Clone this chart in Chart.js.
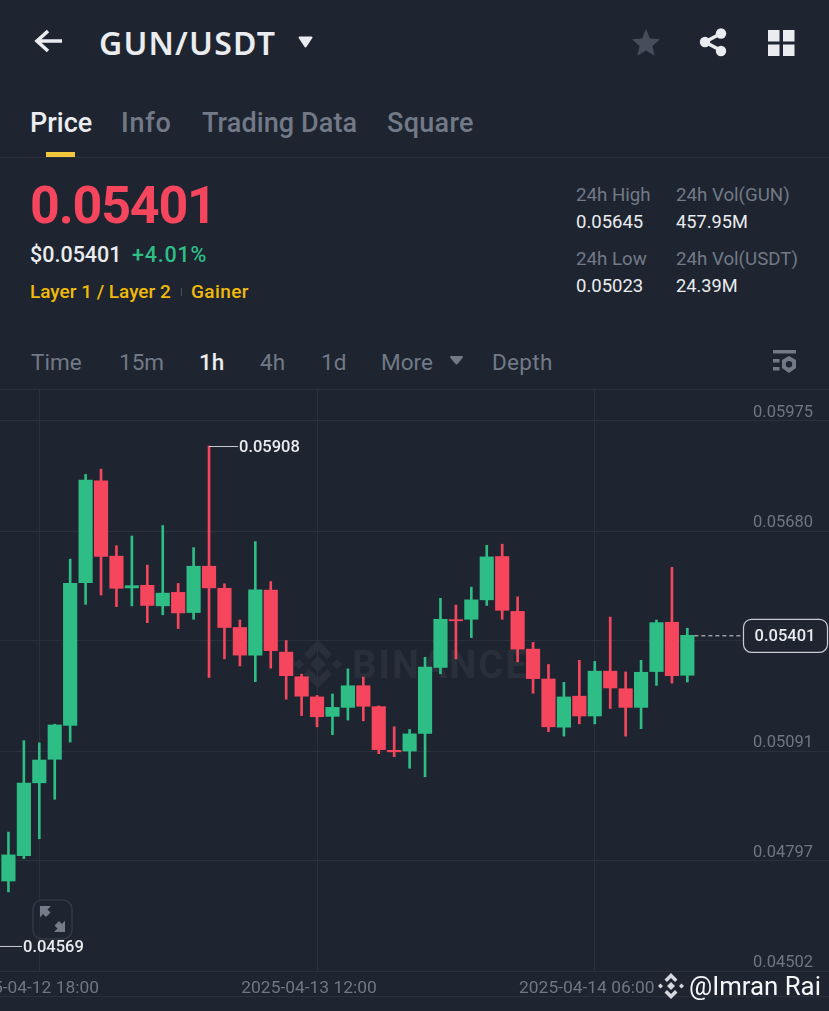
<!DOCTYPE html>
<html><head><meta charset="utf-8">
<script src="https://cdn.jsdelivr.net/npm/chart.js@4"></script>
<style>
html,body{margin:0;padding:0;background:#1e2530;width:829px;height:1011px;overflow:hidden}
body{position:relative;font-family:Roboto,sans-serif}
.t{position:absolute;white-space:nowrap;line-height:1;transform:translateY(-50%)}
.g{color:#727987}.w{color:#eaecef}.y{color:#f0b90b}
.h{position:absolute;left:0;width:829px;height:1px;background:#2b313c}
svg{position:absolute;overflow:visible}
canvas{position:absolute;left:0;top:389px}
</style></head><body>
<svg style="left:31px;top:26px" width="36" height="30"><path d="M31 15H7M17 5L6 15l11 10" fill="none" stroke="#eaecef" stroke-width="3.6"/></svg>
<div class="t w" style="left:99px;top:43px;font-family:'Noto Sans';font-size:32px;font-weight:600;letter-spacing:1.2px">GUN/USDT</div>
<svg style="left:298px;top:36px" width="15" height="12"><path d="M1.5 1.5h12L7.5 10.5z" fill="#eaecef" stroke="#eaecef" stroke-width="2" stroke-linejoin="round"/></svg>
<svg style="left:631px;top:27px" width="30" height="30"><path d="M15 2l4 9.5 10 .8-7.600 6.600 2.300 9.900-8.700-5.200-8.700 5.200 2.300-9.900L1 12.300l10-.8z" fill="#474e5b"/></svg>
<svg style="left:698px;top:27px" width="30" height="30"><path d="M22 7L7 15l15 8" stroke="#eaecef" stroke-width="3.500" fill="none"/><circle cx="23" cy="6.500" r="5.200" fill="#eaecef"/><circle cx="7" cy="15" r="5.200" fill="#eaecef"/><circle cx="23" cy="24" r="5.200" fill="#eaecef"/></svg>
<svg style="left:768px;top:30px" width="27" height="27"><g fill="#eaecef"><rect width="11.500" height="11.500"/><rect x="15" width="11.500" height="11.500"/><rect y="14.500" width="11.500" height="11.500"/><rect x="15" y="14.500" width="11.500" height="11.500"/></g></svg>

<div class="t w" style="left:30px;top:123px;font-size:27px;font-weight:500">Price</div>
<div class="t g" style="left:121px;top:123px;font-size:27px;font-weight:500;letter-spacing:.8px">Info</div>
<div class="t g" style="left:202px;top:123px;font-size:27px;font-weight:500;letter-spacing:.1px">Trading Data</div>
<div class="t g" style="left:387px;top:123px;font-size:27px;font-weight:500;letter-spacing:.3px">Square</div>
<div style="position:absolute;left:46px;top:152px;width:29px;height:5px;background:#f0c63c"></div>
<div class="h" style="top:157px"></div>

<div class="t" style="left:30px;top:206px;font-size:52px;font-weight:700;letter-spacing:-1.2px;color:#f6465d">0.05401</div>
<div class="t w" style="left:30px;top:255px;font-size:21.500px;font-weight:500">$0.05401</div>
<div class="t" style="left:132px;top:255px;font-size:21.500px;font-weight:500;letter-spacing:.8px;color:#2ebd85">+4.01%</div>
<div class="t y" style="left:30px;top:291px;font-size:19px;font-weight:500">Layer 1 / Layer 2</div>
<div style="position:absolute;left:181px;top:288px;width:1px;height:8px;background:#4a4f58"></div>
<div class="t y" style="left:191px;top:291px;font-size:19px;font-weight:500;letter-spacing:.4px">Gainer</div>

<div class="t g" style="left:576px;top:195px;font-size:18.700px">24h High</div>
<div class="t w" style="left:576px;top:222px;font-size:18.500px">0.05645</div>
<div class="t g" style="left:576px;top:259px;font-size:18.700px">24h Low</div>
<div class="t w" style="left:576px;top:286px;font-size:18.500px">0.05023</div>
<div class="t g" style="left:676px;top:195px;font-size:18.700px">24h Vol(GUN)</div>
<div class="t w" style="left:676px;top:222px;font-size:18.200px">457.95M</div>
<div class="t g" style="left:676px;top:259px;font-size:18.700px">24h Vol(USDT)</div>
<div class="t w" style="left:676px;top:286px;font-size:18.200px">24.39M</div>

<div class="t g" style="left:31px;top:362px;font-size:22.500px">Time</div>
<div class="t g" style="left:119px;top:362px;font-size:22.500px">15m</div>
<div class="t w" style="left:199px;top:362px;font-size:22.500px;font-weight:500">1h</div>
<div class="t g" style="left:260px;top:362px;font-size:22.500px">4h</div>
<div class="t g" style="left:321px;top:362px;font-size:22.500px">1d</div>
<div class="t g" style="left:381px;top:362px;font-size:22.500px">More</div>
<svg style="left:449px;top:355px" width="16" height="11"><path d="M2 2h11L7.500 8.500z" fill="#727987" stroke="#727987" stroke-width="2" stroke-linejoin="round"/></svg>
<div class="t g" style="left:492px;top:362px;font-size:22.500px;letter-spacing:.3px">Depth</div>
<svg style="left:773px;top:350px" width="24" height="24"><g fill="#727987"><rect width="23" height="3.500"/><rect y="9" width="6.500" height="3.500"/><rect y="17" width="6.500" height="3.500"/><path fill-rule="evenodd" d="M16 6l7 4v8l-7 5-7-5v-8zM16 11a3.200 3.200 0 100 6.400 3.200 3.200 0 000-6.400z"/></g></svg>
<div class="h" style="top:389px"></div>
<div class="h" style="top:996px"></div>

<svg style="left:294px;top:640px" width="48" height="48"><g fill="#2a303b"><path d="M24 0l14 14-5 5-9-9-9 9-5-5zM24 48L10 34l5-5 9 9 9-9 5 5zM0 24l5-5 5 5-5 5zM38 24l5-5 5 5-5 5zM24 16l8 8-8 8-8-8z"/></g></svg>
<div class="t" style="left:352px;top:665px;font-size:38px;font-weight:700;letter-spacing:2.3px;color:#2a303b">BINANCE</div>

<canvas id="c" width="829" height="622"></canvas>

<svg style="left:32px;top:899px" width="41" height="41"><rect x="1" y="1" width="39" height="39" rx="9" fill="#1e2530" fill-opacity=".6" stroke="#323845" stroke-width="1.500"/><g fill="#757b88"><path d="M8 7h11l-3.500 3.500 3 3-4.500 4.500-3-3L8 18.500zM33 33H22l3.500-3.500-3-3 4.500-4.500 3 3 3-3.500z"/></g></svg>
<svg style="left:657px;top:972px" width="28" height="28"><path d="M14 1l6.500 6.500-2.500 2.500-4-4-4 4-2.500-2.500zM14 27l-6.500-6.500 2.500-2.500 4 4 4-4 2.500 2.500zM1 14l2.500-2.500L6 14l-2.500 2.500zM22 14l2.500-2.500L27 14l-2.500 2.500zM14 10l4 4-4 4-4-4z" fill="#d5d8dc"/></svg>
<div class="t" style="left:689px;top:987px;font-size:25.800px;color:#f5f6f7">@Imran Rai</div>

<script>
// Candles, left to right, one per hour, starting 2025-04-12 16:00
const open  = [0.04743,0.04811,0.05006,0.05069,0.05160,0.05542,0.05815,0.05613,0.05528,0.05535,0.05480,0.05516,0.05462,0.05586,0.05527,0.05422,0.05348,0.05522,0.05356,0.05290,0.05236,0.05184,0.05208,0.05266,0.05210,0.05093,0.05091,0.05138,0.05315,0.05443,0.05444,0.05496,0.05612,0.05465,0.05364,0.05284,0.05155,0.05238,0.05185,0.05305,0.05258,0.05208,0.05304,0.05436,0.05294];
const high  = [0.04874,0.05119,0.05113,0.05163,0.05605,0.05832,0.05846,0.05641,0.05667,0.05589,0.05695,0.05540,0.05636,0.05908,0.05539,0.05442,0.05652,0.05545,0.05387,0.05297,0.05240,0.05244,0.05311,0.05289,0.05212,0.05156,0.05149,0.05342,0.05500,0.05482,0.05530,0.05642,0.05645,0.05504,0.05382,0.05323,0.05275,0.05334,0.05331,0.05450,0.05303,0.05334,0.05442,0.05583,0.05420];
const low   = [0.04714,0.04803,0.04856,0.04962,0.05115,0.05484,0.05509,0.05478,0.05480,0.05435,0.05456,0.05419,0.05444,0.05288,0.05338,0.05319,0.05277,0.05313,0.05230,0.05186,0.05156,0.05135,0.05174,0.05172,0.05084,0.05076,0.05045,0.05022,0.05298,0.05338,0.05395,0.05481,0.05444,0.05330,0.05246,0.05143,0.05131,0.05164,0.05164,0.05205,0.05131,0.05151,0.05267,0.05273,0.05276];
const close = [0.04813,0.05005,0.05067,0.05161,0.05540,0.05817,0.05612,0.05527,0.05534,0.05481,0.05514,0.05461,0.05586,0.05528,0.05422,0.05348,0.05523,0.05360,0.05293,0.05238,0.05183,0.05208,0.05266,0.05211,0.05095,0.05089,0.05137,0.05316,0.05444,0.05440,0.05496,0.05611,0.05468,0.05364,0.05285,0.05156,0.05236,0.05185,0.05305,0.05260,0.05208,0.05302,0.05435,0.05293,0.05401];
const priceTicks = [0.05975,0.05680,0.05386,0.05091,0.04797,0.04502];
const timeTickIndex = [2,20,38];
const timeTickLabels = ['2025-04-12 18:00','2025-04-13 12:00','2025-04-14 06:00'];
const lastPrice = 0.05401;
const highMark = {index:13, value:0.05908};
const lowMark  = {index:-1, value:0.04569};

const UP='#2ebd85', DOWN='#f6465d', GRID='#2b313c', TICK='#6f7684';
const FONT='Roboto, sans-serif';
const colors = close.map((c,i)=> c>=open[i] ? UP : DOWN);
const wicks  = high.map((h,i)=>({x:i,y:[low[i],h]}));
const bodies = open.map((o,i)=>({x:i,y:[Math.min(o,close[i]),Math.max(o,close[i])]}));

const marks = {
  id:'marks',
  afterDatasetsDraw(chart){
    const {ctx,scales:{x,y}} = chart;
    ctx.save();
    ctx.font='500 16.5px '+FONT; ctx.textBaseline='middle';
    [[highMark,29],[lowMark,29]].forEach(([m,len])=>{
      const px=x.getPixelForValue(m.index), py=y.getPixelForValue(m.value);
      ctx.strokeStyle='#c8ccd2'; ctx.lineWidth=1;
      ctx.beginPath(); ctx.moveTo(px,py+.5); ctx.lineTo(px+len,py+.5); ctx.stroke();
      ctx.fillStyle='#eaecef'; ctx.textAlign='left';
      ctx.fillText(m.value.toFixed(5),px+len+1,py+2);
    });
    const py=y.getPixelForValue(lastPrice), px=x.getPixelForValue(close.length-1)+7;
    ctx.strokeStyle='#d5d8dc'; ctx.lineWidth=1; ctx.setLineDash([4,3]);
    ctx.beginPath(); ctx.moveTo(px,py+.5); ctx.lineTo(743,py+.5); ctx.stroke();
    ctx.setLineDash([]);
    ctx.beginPath(); ctx.roundRect(743.500,py-16,84,33,8);
    ctx.fillStyle='rgba(30,37,48,.93)'; ctx.fill();
    ctx.strokeStyle='#c8ccd2'; ctx.lineWidth=1.2; ctx.stroke();
    ctx.fillStyle='#eaecef'; ctx.textAlign='center';
    ctx.fillText(lastPrice.toFixed(5),785,py+2);
    ctx.restore();
  }
};

new Chart(document.getElementById('c'),{
  type:'bar',
  data:{datasets:[
    {label:'Open/Close',data:bodies,backgroundColor:colors,barThickness:13.5,grouped:false},
    {label:'High/Low',data:wicks,backgroundColor:colors,barThickness:2,grouped:false}
  ]},
  plugins:[marks],
  options:{
    responsive:false,animation:false,
    layout:{padding:0},
    plugins:{legend:{display:false},tooltip:{enabled:false}},
    scales:{
      x:{type:'linear',min:-0.547,max:53.18,offset:false,
        border:{display:true,color:GRID},
        grid:{color:GRID,drawTicks:false,offset:false},
        afterBuildTicks(s){s.ticks=timeTickIndex.map(v=>({value:v}));},
        afterFit(s){s.height=40;s.paddingLeft=0;s.paddingRight=0;},
        ticks:{autoSkip:false,maxRotation:0,minRotation:0,padding:7,labelOffset:-8,color:TICK,
          font:{family:FONT,size:17.4},
          callback(v){return timeTickLabels[timeTickIndex.indexOf(v)];}}
      },
      y:{type:'linear',position:'right',min:0.04502,max:0.060607,
        border:{display:false},
        grid:{color:GRID,drawTicks:false},
        afterBuildTicks(s){s.ticks=priceTicks.map(v=>({value:v}));},
        afterFit(s){s.width=0;s.paddingTop=0;s.paddingBottom=0;s.paddingLeft=0;s.paddingRight=0;},
        ticks:{mirror:true,padding:-16,color:TICK,autoSkip:false,
          font:{family:FONT,size:16.5,lineHeight:'16px'},
          callback(v){return [v.toFixed(5),''];}}
      }
    }
  }
});
</script>
</body></html>
